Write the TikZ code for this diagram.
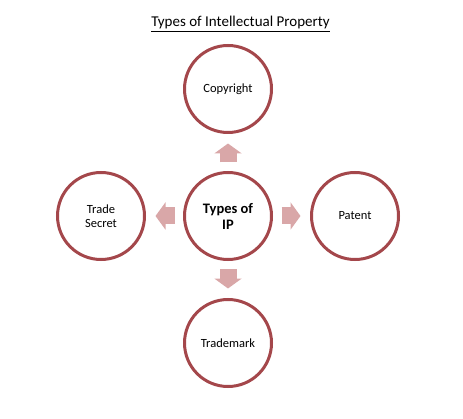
\documentclass[tikz,border=0pt]{standalone}
\usepackage{fontspec}
\setmainfont{Carlito}
\usetikzlibrary{positioning,arrows.meta}
\definecolor{circred}{RGB}{164,71,75}
\definecolor{arrpink}{RGB}{217,167,168}
\tikzset{
  ipcircle/.style={circle, draw=circred, line width=3pt, fill=white, minimum size=87pt,
    inner sep=0pt, align=center, font=\fontsize{12.5}{14.5}\selectfont},
  blockarr/.style={draw=arrpink, line width=17pt, -{Triangle[length=10pt,width=27pt,fill=arrpink]},
    shorten <=8.5pt, shorten >=9.5pt}
}
\begin{document}
\begin{tikzpicture}[x=1pt,y=1pt,node distance=37pt]
  \useasboundingbox (0,0) rectangle (463,418);

  \node[anchor=base, font=\fontsize{15}{17}\selectfont] (title) at (240.5,391) {\underline{Types of Intellectual Property}};

  \node[ipcircle, font=\bfseries\fontsize{14.5}{16}\selectfont] (ip) at (228,202) {Types of\\IP};
  \node[ipcircle, above=of ip] (copy) {Copyright};
  \node[ipcircle, right=of ip] (patent) {Patent};
  \node[ipcircle, below=of ip] (trademark) {Trademark};
  \node[ipcircle, left=of ip] (secret) {Trade\\Secret};

  \foreach \n in {copy,patent,trademark,secret}{
    \draw[blockarr] (ip) -- (\n);
  }
\end{tikzpicture}
\end{document}
